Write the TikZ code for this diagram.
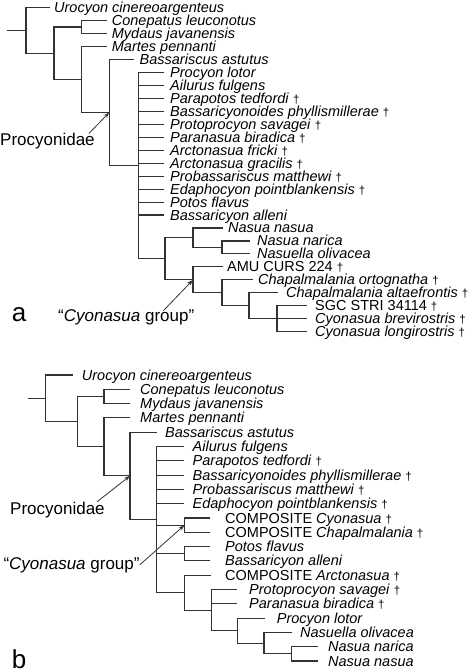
\documentclass[tikz,border=0pt]{standalone}
\usepackage{fontspec}
\setmainfont{Liberation Sans}
\usetikzlibrary{arrows.meta}
\newcommand{\dgr}{{\upshape\fontsize{11.5}{11.5}\selectfont †}}
\begin{document}
\begin{tikzpicture}[x=1pt,y=-1pt,
  edge/.style={draw=black!80, line width=1.1pt},
  leaf/.style={anchor=base west, inner sep=0pt, font=\fontsize{14.5}{15}\selectfont},
  grp/.style={anchor=base west, inner sep=0pt, font=\fontsize{17}{19}\selectfont},
  panel/.style={anchor=base west, inner sep=0pt, font=\fontsize{26}{28}\selectfont},
  arr/.style={draw=black!80, line width=0.8pt, -{Stealth[length=6pt,width=4pt]}}]
\useasboundingbox (0,0) rectangle (474,671);

% ---------------- panel a ----------------
\foreach \i/\ex/\tx/\lab in {
  0/50/54/{\textit{Urocyon cinereoargenteus}},
  1/106.7/111.7/{\textit{Conepatus leuconotus}},
  2/106.7/111.7/{\textit{Mydaus javanensis}},
  3/106.7/111.7/{\textit{Martes pennanti}},
  4/134/139.5/{\textit{Bassariscus astutus}},
  5/164/170/{\textit{Procyon lotor}},
  6/164/170/{\textit{Ailurus fulgens}},
  7/164/170/{\textit{Parapotos tedfordi} \dgr},
  8/164/170/{\textit{Bassaricyonoides phyllismillerae} \dgr},
  9/164/170/{\textit{Protoprocyon savagei} \dgr},
  10/164/170/{\textit{Paranasua biradica} \dgr},
  11/164/170/{\textit{Arctonasua fricki} \dgr},
  12/164/170/{\textit{Arctonasua gracilis} \dgr},
  13/164/170/{\textit{Probassariscus matthewi} \dgr},
  14/164/170/{\textit{Edaphocyon pointblankensis} \dgr},
  15/164/170/{\textit{Potos flavus}},
  16/164/170/{\textit{Bassaricyon alleni}},
  17/223/228/{\textit{Nasua nasua}},
  18/250/257/{\textit{Nasua narica}},
  19/250/257/{\textit{Nasuella olivacea}},
  20/223/227/{AMU CURS 224 \dgr},
  21/253/258/{\textit{Chapalmalania ortognatha} \dgr},
  22/278/286/{\textit{Chapalmalania altaefrontis} \dgr},
  23/307/315/{SGC STRI 34114 \dgr},
  24/307/315/{\textit{Cyonasua brevirostris} \dgr},
  25/307/315/{\textit{Cyonasua longirostris} \dgr}}{
  \coordinate (tL\i) at (\ex,{7.5+12.97*\i});
  \node[leaf] (tT\i) at (\tx,{7.5+12.97*\i+5}) {\lab};
}

\coordinate (tStub) at (6.7,30.35);
\coordinate (tRoot) at (26,30.35);
\coordinate (tCan)  at (54,53.20);
\coordinate (tCM)   at (81.7,26.955);
\coordinate (tMar)  at (81.7,79.44);
\coordinate (tProc) at (109.3,112.48);
\coordinate (tPoly) at (138.3,165.57);
\coordinate (tNC)   at (165,258.795);
\coordinate (tNas)  at (193,237.72);
\coordinate (tNar)  at (222,247.445);
\coordinate (tAMU)  at (193,279.87);
\coordinate (tCort) at (222,292.84);
\coordinate (tCalt) at (249,305.81);
\coordinate (tCyo)  at (277,318.78);

\draw[edge] (tStub) -- (tRoot);
\draw[edge] (tRoot) |- (tL0);
\draw[edge] (tRoot) |- (tCan);
\draw[edge] (tCan) |- (tCM);
\draw[edge] (tCan) |- (tMar);
\draw[edge] (tCM) |- (tL1);
\draw[edge] (tCM) |- (tL2);
\draw[edge] (tMar) |- (tL3);
\draw[edge] (tMar) |- (tProc);
\draw[edge] (tProc) |- (tL4);
\draw[edge] (tProc) |- (tPoly);
\foreach \i in {5,...,16}{\draw[edge] (tPoly) |- (tL\i);}
\draw[edge] (tPoly) |- (tNC);
\draw[edge] (tNC) |- (tNas);
\draw[edge] (tNC) |- (tAMU);
\draw[edge] (tNas) |- (tL17);
\draw[edge] (tNas) |- (tNar);
\draw[edge] (tNar) |- (tL18);
\draw[edge] (tNar) |- (tL19);
\draw[edge] (tAMU) |- (tL20);
\draw[edge] (tAMU) |- (tCort);
\draw[edge] (tCort) |- (tL21);
\draw[edge] (tCort) |- (tCalt);
\draw[edge] (tCalt) |- (tL22);
\draw[edge] (tCalt) |- (tCyo);
\draw[edge] (tCyo) |- (tL23);
\draw[edge] (tCyo) |- (tL24);
\draw[edge] (tCyo) |- (tL25);

\node[grp] (tPL) at (0,146) {Procyonidae};
\draw[arr] ([xshift=-6pt]tPL.north east) -- (tProc);
\node[grp] (tGL) at (58,321.7) {“\textit{Cyonasua} group”};
\draw[arr] ([xshift=-31pt,yshift=-1pt]tGL.north east) -- (tAMU);
\node[panel] (pa) at (11.7,321.7) {a};

% ---------------- panel b ----------------
\foreach \i/\ex/\tx/\lab in {
  0/72.7/81.7/{\textit{Urocyon cinereoargenteus}},
  1/130/140/{\textit{Conepatus leuconotus}},
  2/130/140/{\textit{Mydaus javanensis}},
  3/130/140/{\textit{Martes pennanti}},
  4/156.7/165/{\textit{Bassariscus astutus}},
  5/184/192.5/{\textit{Ailurus fulgens}},
  6/184/192.5/{\textit{Parapotos tedfordi} \dgr},
  7/184/192.5/{\textit{Bassaricyonoides phyllismillerae} \dgr},
  8/184/192.5/{\textit{Probassariscus matthewi} \dgr},
  9/184/192.5/{\textit{Edaphocyon pointblankensis} \dgr},
  10/210/225/{COMPOSITE \textit{Cyonasua} \dgr},
  11/210/225/{COMPOSITE \textit{Chapalmalania} \dgr},
  12/210/225/{\textit{Potos flavus}},
  13/210/225/{\textit{Bassaricyon alleni}},
  14/210.7/225/{COMPOSITE \textit{Arctonasua} \dgr},
  15/236.7/249/{\textit{Protoprocyon savagei} \dgr},
  16/236.7/249/{\textit{Paranasua biradica} \dgr},
  17/265/276.7/{\textit{Procyon lotor}},
  18/291.7/300/{\textit{Nasuella olivacea}},
  19/318.3/328/{\textit{Nasua narica}},
  20/318.3/328/{\textit{Nasua nasua}}}{
  \coordinate (bL\i) at (\ex,{375+14.3*\i});
  \node[leaf] (bT\i) at (\tx,{375+14.3*\i+5}) {\lab};
}

\coordinate (bStub) at (27.7,398.33);
\coordinate (bRoot) at (45.7,398.33);
\coordinate (bCan)  at (77.3,421.67);
\coordinate (bCM)   at (104,396.45);
\coordinate (bMar)  at (104,446.89);
\coordinate (bProc) at (130,475.88);
\coordinate (bPoly) at (156.7,519.57);
\coordinate (bCom)  at (184.5,525.15);
\coordinate (bPot)  at (184.5,553.75);
\coordinate (bArc)  at (184.5,592.63);
\coordinate (bPro)  at (211.7,610.06);
\coordinate (bPrc)  at (237.3,630.61);
\coordinate (bNsl)  at (264,643.125);
\coordinate (bNN)   at (291.7,653.85);

\draw[edge] (bStub) -- (bRoot);
\draw[edge] (bRoot) |- (bL0);
\draw[edge] (bRoot) |- (bCan);
\draw[edge] (bCan) |- (bCM);
\draw[edge] (bCan) |- (bMar);
\draw[edge] (bCM) |- (bL1);
\draw[edge] (bCM) |- (bL2);
\draw[edge] (bMar) |- (bL3);
\draw[edge] (bMar) |- (bProc);
\draw[edge] (bProc) |- (bL4);
\draw[edge] (bProc) |- (bPoly);
\foreach \i in {5,...,9}{\draw[edge] (bPoly) |- (bL\i);}
\draw[edge] (bPoly) |- (bCom);
\draw[edge] (bPoly) |- (bPot);
\draw[edge] (bPoly) |- (bArc);
\draw[edge] (bCom) |- (bL10);
\draw[edge] (bCom) |- (bL11);
\draw[edge] (bPot) |- (bL12);
\draw[edge] (bPot) |- (bL13);
\draw[edge] (bArc) |- (bL14);
\draw[edge] (bArc) |- (bPro);
\draw[edge] (bPro) |- (bL15);
\draw[edge] (bPro) |- (bL16);
\draw[edge] (bPro) |- (bPrc);
\draw[edge] (bPrc) |- (bL17);
\draw[edge] (bPrc) |- (bNsl);
\draw[edge] (bNsl) |- (bL18);
\draw[edge] (bNsl) |- (bNN);
\draw[edge] (bNN) |- (bL19);
\draw[edge] (bNN) |- (bL20);

\node[grp] (bPL) at (10,514.4) {Procyonidae};
\draw[arr] ([xshift=-8pt]bPL.north east) -- (bProc);
\node[grp] (bGL) at (3.3,569) {“\textit{Cyonasua} group”};
\draw[arr] (bGL.east) -- (bCom);
\node[panel] (pb) at (11.7,668) {b};
\end{tikzpicture}
\end{document}
